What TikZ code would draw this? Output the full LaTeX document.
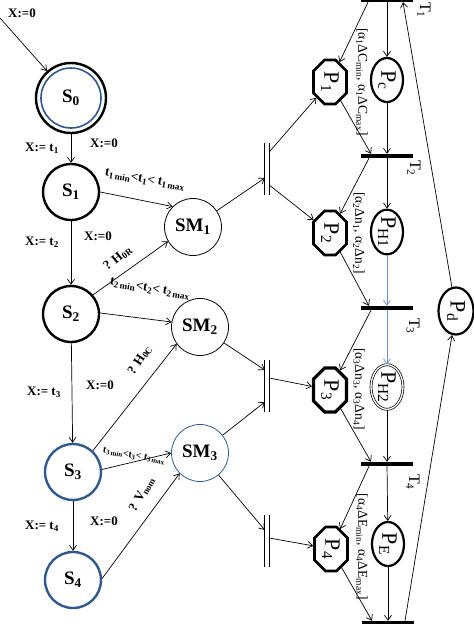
\documentclass[tikz,border=0pt]{standalone}
\usepackage{amsmath}
\usepackage{fontspec}
\setmainfont{Liberation Serif}
\usepackage{tikz}
\usetikzlibrary{shapes.geometric,shapes.misc,arrows.meta}
\definecolor{stateblue}{RGB}{48, 88, 142}
\definecolor{flowblue}{RGB}{105, 145, 200}
\newcommand{\lo}[1]{$_{\text{#1}}$}

\begin{document}
\begin{tikzpicture}[x=1pt,y=-1pt,>={Straight Barb[length=5pt,width=7pt]},
    stnode/.style={draw,circle,line width=2.4pt,minimum size=56pt,inner sep=0pt,font=\fontsize{19}{20}\selectfont\bfseries},
    smnode/.style={draw,circle,line width=0.8pt,minimum size=57pt,inner sep=0pt,font=\fontsize{19}{20}\selectfont\bfseries},
    hexplace/.style={draw,chamfered rectangle,chamfered rectangle xsep=8pt,line width=2.6pt,minimum width=44pt,minimum height=33pt,inner sep=0pt,rotate=-90,font=\fontsize{22}{22}\selectfont},
    ovalplace/.style={draw,ellipse,line width=2.2pt,minimum width=44pt,minimum height=32pt,inner sep=0pt,rotate=-90,font=\fontsize{22}{22}\selectfont},
    trans/.style={fill,rectangle,minimum width=52pt,minimum height=4pt,inner sep=0pt},
    dbar/.style={rectangle,minimum width=4pt,minimum height=52pt,inner sep=0pt},
    barline/.style={line width=1.3pt},
    lbl/.style={font=\fontsize{13}{14}\selectfont\bfseries},
    tlbl/.style={rotate=-90,font=\fontsize{16}{16}\selectfont},
    ilbl/.style={rotate=-90,font=\fontsize{13.5}{14}\selectfont},
    link/.style={->,line width=0.7pt},
    flow/.style={->,line width=0.7pt,flowblue}]
    \clip (0,0) rectangle (474,624);

    % timed automaton
    \node[stnode,minimum size=70pt] (s0) at (71,98) {S\lo{0}};
    \draw[stateblue,line width=1.6pt] (s0.center) circle[radius=30pt];
    \node[stnode] (s1) at (71,192) {S\lo{1}};
    \node[stnode] (s2) at (71,314) {S\lo{2}};
    \node[stnode,stateblue] (s3) at (73,472) {\textcolor{black}{S\lo{3}}};
    \node[stnode,stateblue] (s4) at (73,580) {\textcolor{black}{S\lo{4}}};

    \node[smnode] (sm1) at (193,227) {SM\lo{1}};
    \node[smnode] (sm2) at (200,327) {SM\lo{2}};
    \node[smnode,stateblue] (sm3) at (200,453) {\textcolor{black}{SM\lo{3}}};

    \coordinate (init) at (0,18);
    \draw[link] (init) -- (s0);
    \draw[link] (s0) -- (s1);
    \draw[link] (s1) -- (s2);
    \draw[link] (s2) -- (s3);
    \draw[link] (s3) -- (s4);
    \draw[link] (s1.0) -- (sm1.135);
    \draw[link] (s2.41) -- (sm1.210);
    \draw[link] (s2.2) -- (sm2.170);
    \draw[link] (s3.47) -- (sm2.216);
    \draw[link] (s3.5) -- (sm3.180);
    \draw[link] (s4.3) -- (sm3.225);

    \node[lbl] (lx0) at (22,13) {X:=0};
    \node[lbl] (la1) at (42,148) {X:= t\lo{1}};
    \node[lbl] (lb1) at (104,143) {X:=0};
    \node[lbl,rotate=-10] (lc1) at (145,180) {t\lo{1\,min}<t\lo{1}< t\lo{1\,max}};
    \node[lbl] (la2) at (42,242) {X:= t\lo{2}};
    \node[lbl] (lb2) at (98,236) {X:=0};
    \node[lbl,rotate=40] (lh1) at (118,258) {? H\lo{0R}};
    \node[lbl,rotate=-10] (lc2) at (150,289) {t\lo{2\,min}<t\lo{2}< t\lo{2\,max}};
    \node[lbl] (la3) at (44,392) {X:= t\lo{3}};
    \node[lbl] (lb3) at (100,385) {X:=0};
    \node[lbl,rotate=57] (lh2) at (140,360) {? H\lo{0C}};
    \node[lbl,rotate=-10,font=\fontsize{10}{11}\selectfont\bfseries] (lc3) at (134,456) {t\lo{3\,min}<t\lo{3}< t\lo{3\,max}};
    \node[lbl] (la4) at (42,526) {X:= t\lo{4}};
    \node[lbl] (lb4) at (104,521) {X:=0};
    \node[lbl,rotate=60] (lh3) at (142,494) {? V\lo{nom}};

    % Petri net
    \node[dbar] (b1) at (267,169) {};
    \node[dbar] (b2) at (267,386) {};
    \node[dbar] (b3) at (267,541) {};
    \foreach \b in {b1,b2,b3}
        \draw[barline] (\b.north west) -- (\b.south west) (\b.north east) -- (\b.south east);

    \node[trans] (t1) at (387,0) {};
    \node[trans] (t2) at (387,156) {};
    \node[trans] (t3) at (387,308) {};
    \node[trans] (t4) at (387,464) {};
    \node[trans] (t5) at (388,623) {};

    \node[hexplace] (p1) at (330,82) {P\lo{1}};
    \node[hexplace] (p2) at (330,233) {P\lo{2}};
    \node[hexplace,line width=3.2pt] (p3) at (330,390) {P\lo{3}};
    \node[hexplace] (p4) at (331,549) {P\lo{4}};
    \node[ovalplace] (pc) at (387,80) {P\lo{c}};
    \node[ovalplace] (ph1) at (387,232) {P\lo{H1}};
    \node[ovalplace,line width=0.7pt,double,double distance=1.3pt] (ph2) at (387,387) {P\lo{H2}};
    \node[ovalplace] (pe) at (388,544) {P\lo{E}};
    \node[ovalplace,minimum width=47pt,minimum height=35pt] (pd) at (456,311) {P\lo{d}};

    \draw[link] (sm1) -- ([yshift=-9pt]b1.west);
    \draw[link] (sm2) -- ([yshift=16pt]b2.west);
    \draw[link] (sm3) -- ([yshift=-16pt]b2.west);
    \draw[link] (sm3) -- ([yshift=11pt]b3.west);
    \draw[link] ([yshift=17pt]b1.east) -- (p1);
    \draw[link] ([yshift=-16pt]b1.east) -- (p2);
    \draw[link] ([yshift=8pt]b2.east) -- (p3);
    \draw[link] ([yshift=3pt]b3.east) -- (p4);

    \draw[link] ([xshift=-19pt]t1.south) -- (p1);
    \draw[link] (t1) -- (pc);
    \draw[link] (p1) -- ([xshift=-16pt]t2.north);
    \draw[link] (pc) -- (t2);
    \draw[link] ([xshift=-18pt]t2.south) -- (p2);
    \draw[link] (t2) -- (ph1);
    \draw[link] (p2) -- ([xshift=-18pt]t3.north);
    \draw[flow] (ph1) -- (t3);
    \draw[link] ([xshift=-16pt]t3.south) -- (p3);
    \draw[flow] (t3) -- (ph2);
    \draw[link] (p3) -- ([xshift=-16pt]t4.north);
    \draw[link] (ph2) -- (t4);
    \draw[link] ([xshift=-18pt]t4.south) -- (p4);
    \draw[link] (t4) -- (pe);
    \draw[link] (p4) -- ([xshift=-16pt]t5.north);
    \draw[link] (pe) -- (t5);
    \draw[link] ([xshift=17pt]t5.north) -- (pd);
    \draw[link] (pd) -- ([xshift=16pt]t1.south);

    \node[tlbl] (lt1) at (424,10) {T\lo{1}};
    \node[tlbl] (lt2) at (414,168) {T\lo{2}};
    \node[tlbl] (lt3) at (413,326) {T\lo{3}};
    \node[tlbl] (lt4) at (413,482) {T\lo{4}};
    \node[tlbl] (lt5) at (428,636) {T\lo{5}};
    \node[ilbl] (i1) at (362,82) {[α\lo{1}ΔC\lo{min}, α\lo{1}ΔC\lo{max}]};
    \node[ilbl] (i2) at (359,233) {[α\lo{2}Δn\lo{1}, α\lo{2}Δn\lo{2}]};
    \node[ilbl] (i3) at (359,389) {[α\lo{3}Δn\lo{3}, α\lo{3}Δn\lo{4}]};
    \node[ilbl] (i4) at (362,547) {[α\lo{4}ΔE\lo{min}, α\lo{4}ΔE\lo{max}]};
\end{tikzpicture}
\end{document}
